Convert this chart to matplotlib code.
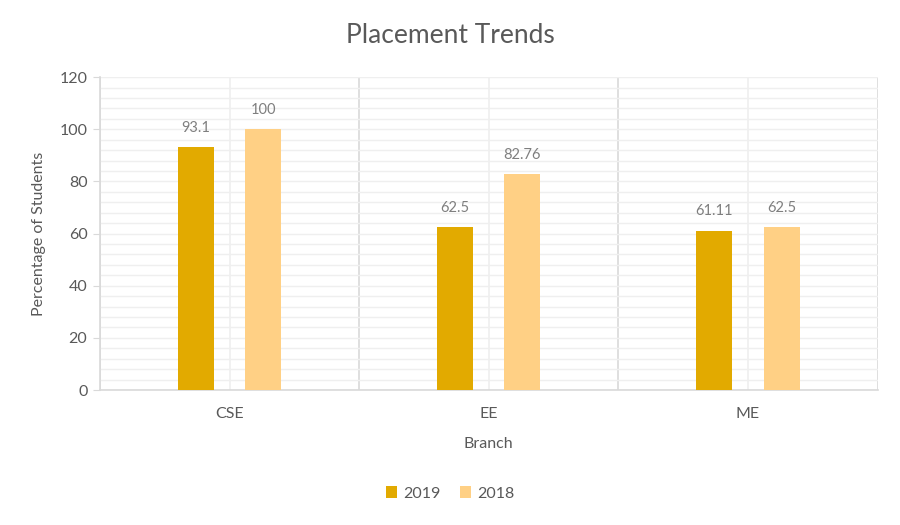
import numpy as np
import matplotlib.pyplot as plt
from matplotlib.ticker import MultipleLocator

branches = ["CSE", "EE", "ME"]
years = ["2019", "2018"]
placed_2019 = [93.1, 62.5, 61.11]
placed_2018 = [100, 82.76, 62.5]
label_2019 = ["93.1", "62.5", "61.11"]
label_2018 = ["100", "82.76", "62.5"]
colors = ["#E2AA00", "#FFD085"]

plt.rcParams['font.family'] = ['Lato', 'DejaVu Sans']
grey = "#595959"

fig = plt.figure(figsize=(9, 5.25), dpi=100)
ax = fig.add_axes([0.111, 0.257, 0.864, 0.596])

x = np.arange(len(branches))
w = 0.139
b1 = ax.bar(x - 0.13, placed_2019, w, color=colors[0], label=years[0], zorder=3)
b2 = ax.bar(x + 0.13, placed_2018, w, color=colors[1], label=years[1], zorder=3)

# value labels above the bars
for bars, labels in ((b1, label_2019), (b2, label_2018)):
    for rect, lab in zip(bars, labels):
        ax.annotate(lab, (rect.get_x() + rect.get_width() / 2, rect.get_height()),
                    xytext=(0, 9), textcoords="offset points",
                    ha="center", va="bottom", fontsize=10.5, color="#7F7F7F")

ax.set_xlim(-0.5, len(branches) - 0.5)
ax.set_ylim(0, 120)
ax.yaxis.set_major_locator(MultipleLocator(20))
ax.yaxis.set_minor_locator(MultipleLocator(4))
ax.set_xticks(x)
ax.set_xticks(np.arange(len(branches) + 1) - 0.5, minor=True)
ax.set_xticklabels(branches)

ax.grid(axis="y", which="both", color="#EFEFEF", lw=1, zorder=0)
ax.grid(axis="x", which="major", color="#EFEFEF", lw=1.2, zorder=0)
ax.grid(axis="x", which="minor", color="#D9D9D9", lw=1.2, zorder=0)

for s in ["top", "right"]:
    ax.spines[s].set_visible(False)
for s in ["left", "bottom"]:
    ax.spines[s].set_color("#D9D9D9")
    ax.spines[s].set_linewidth(1.2)

ax.tick_params(axis="y", which="major", length=5, color="#D9D9D9",
               labelsize=11.5, labelcolor=grey, pad=4)
ax.tick_params(axis="y", which="minor", length=0)
ax.tick_params(axis="x", which="both", length=0, labelsize=11.5, labelcolor=grey, pad=12)

ax.set_xlabel("Branch", fontsize=11.5, color=grey, labelpad=12)
ax.set_ylabel("Percentage of Students", fontsize=11.5, color=grey, labelpad=10)

fig.text(0.5, 0.933, "Placement Trends", ha="center", va="center",
         fontsize=19, color=grey)

fig.legend(loc="center", bbox_to_anchor=(0.5, 0.06), ncol=2, frameon=False,
           fontsize=11.5, labelcolor=grey, handlelength=0.7, handleheight=0.7,
           handletextpad=0.4, columnspacing=1.2)

fig.savefig("out.png", dpi=100, facecolor="white")
